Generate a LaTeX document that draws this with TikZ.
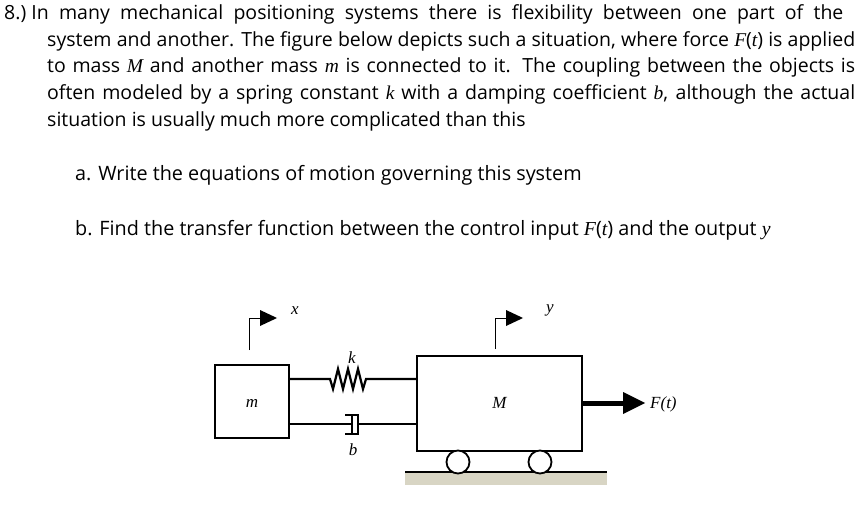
\documentclass[tikz,border=0pt]{standalone}
\usepackage{fontspec}
\setmainfont{Open Sans}
\newfontfamily\tms{Liberation Serif}
\newcommand{\mi}[1]{{\tms\itshape #1}}
\begin{document}
\begin{tikzpicture}[x=1pt,y=-1pt,
  txt/.style={anchor=base west,inner sep=0pt,font=\fontsize{19.5}{22}\selectfont},
  txtb/.style={anchor=base west,inner sep=0pt,font=\fontsize{19.8}{23}\selectfont},
  lbl/.style={inner sep=0pt,font=\fontsize{17}{19}\tms\itshape},
  thick2/.style={line width=2.2pt},
  box/.style={draw,line width=2.2pt,inner sep=0pt}]
\useasboundingbox (0,0) rectangle (868,532);
\fill[white] (0,0) rectangle (868,532);
\node[txt] (l1) at (4,20) {8.)~\makebox[812pt][s]{In many mechanical positioning systems there is flexibility between one part of the}};
\node[txt] (l2) at (47,47) {\makebox[808pt][s]{system and another. The figure below depicts such a situation, where force \mi{F}(\mi{t}) is applied}};
\node[txt] (l3) at (47,73) {\makebox[808pt][s]{to mass \mi{M} and another mass \mi{m} is connected to it. The coupling between the objects is}};
\node[txt] (l4) at (47,100) {\makebox[808pt][s]{often modeled by a spring constant \mi{k} with a damping coefficient \mi{b}, although the actual}};
\node[txt] (l5) at (47,127) {situation is usually much more complicated than this};
\node[txtb] (la) at (75,181) {a. Write the equations of motion governing this system};
\node[txtb] (lb) at (75,235) {b. Find the transfer function between the control input \mi{F}(\mi{t}) and the output \mi{y}};
% masses
\node[box,minimum width=74pt,minimum height=73pt] (m) at (252,401.5) {};
\node[lbl] (ml) at (252,403) {m};
\node[box,minimum width=165pt,minimum height=95pt] (M) at (499.5,403.5) {};
\node[lbl] (Ml) at (499.5,403) {M};
% spring
\draw[thick2] (m.east |- 0,379) -- (330,379) -- (333,389) -- (338,369) -- (343,389) -- (348,369) -- (353,389) -- (358,369) -- (363,389) -- (366,379) -- (M.west |- 0,379);
\node[lbl] (k) at (352,358) {k};
% damper
\draw[thick2] (m.east |- 0,424) -- (352,424);
\draw[thick2] (352,415) -- (352,434);
\draw[thick2] (345,415) -- (358,415) -- (358,434) -- (345,434);
\draw[thick2] (358,424) -- (M.west |- 0,424);
\node[lbl] (b) at (353,450) {b};
% wheels and ground
\fill[fill={rgb,255:red,216;green,213;blue,196}] (405,472) rectangle (607,485);
\draw[line width=1.8pt] (405,472) -- (607,472);
\draw[line width=1.8pt,fill=white] (458,462) circle (11.5);
\draw[line width=1.8pt,fill=white] (540,462) circle (11.5);
% force
\coordinate (Fe) at (645,403);
\draw[line width=5pt] (M.east |- 0,403) -- (628,403);
\fill (623,392) -- (Fe) -- (623,414) -- cycle;
\node[lbl,anchor=west] (F) at (650,404) {F(t)};
% displacement arrows
\draw[line width=0.8pt] (249,350) -- (249,318) -- (265,318);
\fill (260,310) -- (277,318) -- (260,326) -- cycle;
\node[lbl] (x) at (295,311) {x};
\draw[line width=0.8pt] (495,349) -- (495,318) -- (511,318);
\fill (506,310) -- (523,318) -- (506,326) -- cycle;
\node[lbl] (y) at (550,310) {y};
\end{tikzpicture}
\end{document}
